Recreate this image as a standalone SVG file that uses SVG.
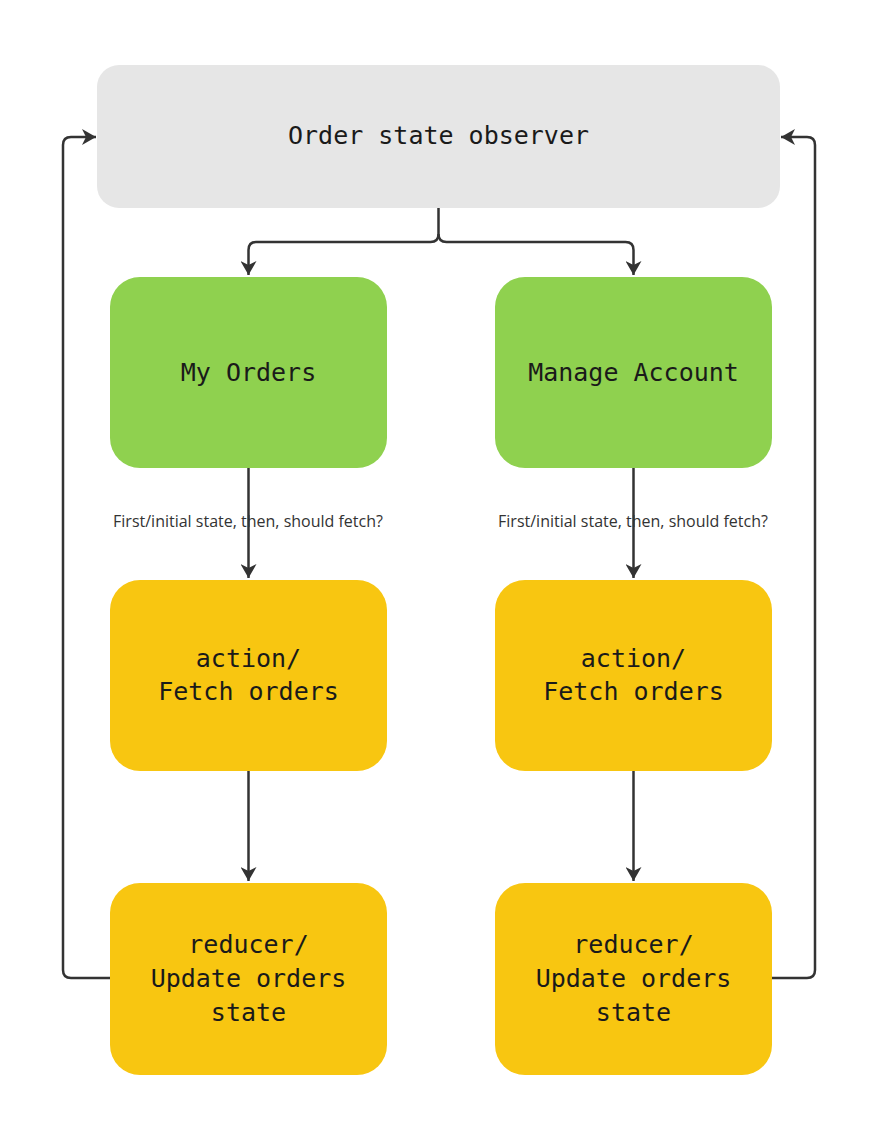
<svg xmlns="http://www.w3.org/2000/svg" width="877" height="1139" viewBox="0 0 877 1139">
<defs>
<marker id="arr" markerWidth="18" markerHeight="16" refX="14" refY="8" orient="auto" markerUnits="userSpaceOnUse">
<path d="M0,0 L14,8 L0,16 L4,8 Z" fill="#333333"/>
</marker>
<style>
.lbl{font-family:"DejaVu Sans Mono","Liberation Mono",monospace;font-size:25px;fill:#1a1a1a;text-anchor:middle}
.small{font-family:"Open Sans","Noto Sans",sans-serif;font-size:16px;fill:#333333;text-anchor:middle}
.conn{fill:none;stroke:#333333;stroke-width:2.5;stroke-linejoin:round}
.green{fill:#8fd14f}
.yellow{fill:#f8c611}
</style>
</defs>
<rect width="877" height="1139" fill="#ffffff"/>
<g id="observer">
<rect x="97" y="65" width="683" height="143" rx="22" fill="#e6e6e6"/>
<text class="lbl" x="438.5" y="144">Order state observer</text>
</g>
<g id="my-orders">
<rect class="green" x="110" y="277" width="277" height="191" rx="30"/>
<text class="lbl" x="248.5" y="381">My Orders</text>
</g>
<g id="manage-account">
<rect class="green" x="495" y="277" width="277" height="191" rx="30"/>
<text class="lbl" x="633.5" y="381">Manage Account</text>
</g>
<g id="action-left">
<rect class="yellow" x="110" y="580" width="277" height="191" rx="30"/>
<text class="lbl" x="248.5" y="667">action/</text>
<text class="lbl" x="248.5" y="700">Fetch orders</text>
</g>
<g id="action-right">
<rect class="yellow" x="495" y="580" width="277" height="191" rx="30"/>
<text class="lbl" x="633.5" y="667">action/</text>
<text class="lbl" x="633.5" y="700">Fetch orders</text>
</g>
<g id="reducer-left">
<rect class="yellow" x="110" y="883" width="277" height="192" rx="30"/>
<text class="lbl" x="248.5" y="953">reducer/</text>
<text class="lbl" x="248.5" y="987">Update orders</text>
<text class="lbl" x="248.5" y="1021">state</text>
</g>
<g id="reducer-right">
<rect class="yellow" x="495" y="883" width="277" height="192" rx="30"/>
<text class="lbl" x="633.5" y="953">reducer/</text>
<text class="lbl" x="633.5" y="987">Update orders</text>
<text class="lbl" x="633.5" y="1021">state</text>
</g>
<g id="connectors">
<path class="conn" d="M438.5,208 V234 Q438.5,242 430.5,242 H256 Q248.5,242 248.5,250 V275" marker-end="url(#arr)"/>
<path class="conn" d="M438.5,234 Q438.5,242 446.5,242 H625.5 Q633.5,242 633.5,250 V275" marker-end="url(#arr)"/>
<path class="conn" d="M248.5,468 V578" marker-end="url(#arr)"/>
<path class="conn" d="M633.5,468 V578" marker-end="url(#arr)"/>
<path class="conn" d="M248.5,771 V881" marker-end="url(#arr)"/>
<path class="conn" d="M633.5,771 V881" marker-end="url(#arr)"/>
<path class="conn" d="M110,978 H71 Q63,978 63,970 V145 Q63,137 71,137 H96" marker-end="url(#arr)"/>
<path class="conn" d="M772,978 H807 Q815,978 815,970 V145 Q815,137 807,137 H781" marker-end="url(#arr)"/>
<text class="small" x="248" y="527">First/initial state, then, should fetch?</text>
<text class="small" x="633" y="527">First/initial state, then, should fetch?</text>
</g>
</svg>
